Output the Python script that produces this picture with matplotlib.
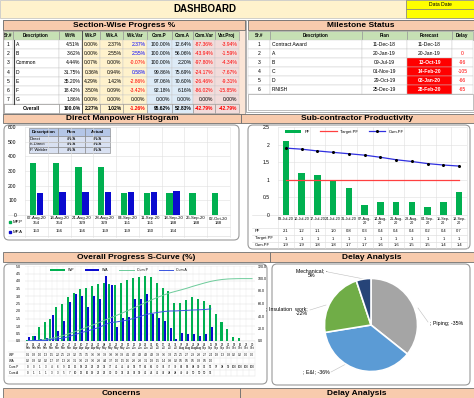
import numpy as np
import matplotlib.pyplot as plt
from matplotlib.patches import Rectangle, FancyBboxPatch
from matplotlib.transforms import blended_transform_factory

W, H = 474, 398
plt.rcParams['font.family'] = ['Liberation Sans', 'DejaVu Sans']

# ---------------- data ----------------
sec_rows = ['1', '2', '3', '4', '5', '6', '7']
sec_desc = ['A', 'B', 'Common', 'D', 'E', 'F', 'G']
sec_wt = ['4.51%', '3.62%', '4.44%', '31.75%', '35.20%', '18.42%', '1.86%']
sec_wkp = ['0.00%', '0.00%', '0.07%', '0.36%', '4.29%', '3.50%', '0.00%']
sec_wka = ['2.37%', '2.55%', '0.00%', '0.94%', '1.42%', '0.09%', '0.00%']
sec_wkvar = ['2.37%', '2.55%', '-0.07%', '0.58%', '-2.86%', '-3.42%', '0.00%']
sec_comp = ['100.00%', '100.00%', '100.00%', '99.86%', '97.06%', '92.18%', '0.00%']
sec_coma = ['12.64%', '56.06%', '2.20%', '75.69%', '70.60%', '6.16%', '0.00%']
sec_comvar = ['-87.36%', '-43.94%', '-97.80%', '-24.17%', '-26.46%', '-86.02%', '0.00%']
sec_varproj = ['-3.94%', '-1.59%', '-4.34%', '-7.67%', '-9.31%', '-15.85%', '0.00%']
sec_overall = ['100.0%', '2.27%', '1.02%', '-1.26%', '95.62%', '52.83%', '-42.79%', '-42.79%']

ms_desc = ['Contract Award', 'A', 'B', 'C', 'D', 'FINISH']
ms_plan = ['11-Dec-18', '20-Jan-19', '09-Jul-19', '01-Nov-19', '29-Oct-19', '25-Dec-19']
ms_fcst = ['11-Dec-18', '20-Jan-19', '13-Oct-19', '14-Feb-20', '03-Jan-20', '28-Feb-20']
ms_delay = ['', '0', '-96', '-105', '-66', '-65']
ms_late = [False, False, True, True, True, True]

mp_dates = ['07-Aug-20', '14-Aug-20', '21-Aug-20', '28-Aug-20', '04-Sep-20',
            '11-Sep-20', '18-Sep-20', '25-Sep-20', '02-Oct-20']
mp_plan = [354, 354, 329, 329, 151, 151, 148, 148, 148]
mp_act = [153, 156, 156, 159, 159, 160, 164]

pf_dates = ['03-Jul-20', '10-Jul-20', '17-Jul-20', '24-Jul-20', '31-Jul-20', '07-Aug-\n20',
            '14-Aug-\n20', '21-Aug-\n20', '28-Aug-\n20', '04-Sep-\n20', '11-Sep-\n20', '18-Sep-\n20']
pf = [2.1, 1.2, 1.13, 0.99, 0.76, 0.27, 0.38, 0.36, 0.36, 0.24, 0.36, 0.66]
target_pf = [1, 1, 1, 1, 1, 1, 1, 1, 1, 1, 1, 1]
cum_pf = [1.9, 1.87, 1.82, 1.78, 1.74, 1.70, 1.64, 1.57, 1.52, 1.46, 1.42, 1.39]

s_days = ['07', '14', '21', '28', '06', '13', '20', '27', '03', '10', '17', '24', '01',
          '08', '15', '22', '29', '05', '12', '19', '26', '03', '10', '17', '24', '31',
          '07', '14', '21', '28', '04', '11', '18', '25', '02', '09', '16', '23', '30']
s_months = ['Feb'] * 4 + ['Mar'] * 4 + ['Apr'] * 4 + ['May'] * 5 + ['Jun'] * 4 + \
           ['Jul'] * 5 + ['Aug'] * 4 + ['Sep'] * 4 + ['Oct'] * 5
wk_plan = [0.05, 0.33, 0.96, 1.28, 1.5, 2.24, 2.48, 2.93, 3.2, 3.47, 3.55, 3.65, 3.8,
           3.87, 3.78, 3.76, 3.9, 4.1, 4.23, 4.3, 4.34, 4.3, 3.9, 3.56, 3.33, 2.55,
           2.55, 2.73, 2.93, 2.77, 2.7, 2.39, 1.81, 1.27, 0.83, 0.25, 0.2, 0.0, 0.0]
wk_act = [0.25, 0.35, 0.16, 0.18, 1.72, 0.65, 1.34, 2.57, 3.15, 3.02, 2.3, 2.98, 2.8,
          4.36, 3.74, 0.96, 1.52, 1.63, 2.77, 2.77, 3.15, 1.81, 1.54, 1.36, 0.87, 0.16,
          0.51, 0.47, 0.47, 0.34, 0.49, 0.96]
cum_plan = [0.1, 0.4, 1.3, 2.6, 4.1, 6.4, 8.8, 11.8, 15.0, 18.4, 22.0, 25.6, 29.4,
            33.3, 37.1, 40.9, 44.8, 48.9, 53.1, 57.4, 61.7, 66.0, 69.9, 73.5, 76.8, 79.4,
            81.9, 84.6, 87.6, 90.3, 93.0, 95.4, 97.2, 98.5, 99.3, 99.6, 99.8, 99.8, 99.8]
cum_act = [0.3, 0.6, 0.8, 0.9, 2.7, 3.3, 4.7, 7.2, 10.4, 13.4, 15.7, 18.7, 21.5,
           25.8, 29.6, 30.5, 32.1, 33.7, 36.5, 39.2, 42.4, 44.2, 45.7, 47.1, 48.0, 48.1,
           48.6, 49.1, 49.6, 49.9, 50.4, 51.4]

delay_labels = ['Piping', 'E&I', 'Insulation  work', 'Mechanical']
delay_vals = [35, 36, 22, 5]
delay_colors = ['#A5A5A5', '#5B9BD5', '#70AD47', '#264478']

GREEN = '#00B050'
BLUE = '#0A0ACF'
SALMON = '#F8CBAD'
HDR_GREEN = '#C6E0B4'

# ---------------- helpers ----------------
fig = plt.figure(figsize=(W / 100, H / 100), dpi=100)
bg = fig.add_axes([0, 0, 1, 1])
bg.set_xlim(0, W)
bg.set_ylim(H, 0)
bg.axis('off')


def px_axes(x0, y0, x1, y1):
    return fig.add_axes([x0 / W, 1 - y1 / H, (x1 - x0) / W, (y1 - y0) / H])


def box(x0, y0, x1, y1, fc, ec='#A0A0A0', lw=0.4, z=1):
    bg.add_patch(Rectangle((x0, y0), x1 - x0, y1 - y0, fc=fc, ec=ec, lw=lw, zorder=z))


def header(x0, y0, x1, y1, text):
    box(x0, y0, x1, y1, SALMON, ec='#6F6F6F', lw=0.6, z=2)
    bg.text((x0 + x1) / 2, (y0 + y1) / 2 + 0.3, text, ha='center', va='center',
            fontsize=6, fontweight='bold', zorder=3)


def panel(x0, y0, x1, y1):
    bg.add_patch(FancyBboxPatch((x0, y0), x1 - x0, y1 - y0,
                                boxstyle='round,pad=0,rounding_size=5',
                                fc='white', ec='#9A9A9A', lw=0.8, zorder=2))


def cell_text(x, y, s, ha='center', color='black', bold=False, size=3.6):
    bg.text(x, y, s, ha=ha, va='center', fontsize=size, color=color,
            fontweight='bold' if bold else 'normal', zorder=4)


# ---------------- top band ----------------
box(0, 0, 406, 18, '#FFF2CC', ec='#BFBFBF', lw=0.5)
bg.text(205, 8.5, 'DASHBOARD', ha='center', va='center', fontsize=7, fontweight='bold')
box(406, 0, 474, 9, '#FFFF00', ec='#7F7F7F', lw=0.5)
box(406, 9, 474, 18, '#FFFF00', ec='#7F7F7F', lw=0.5)
cell_text(440, 4.7, 'Data Date', size=3.6)

# ---------------- section-wise progress table ----------------
box(3, 20, 245, 114, '#FBE5D6', ec='#8F8F8F', lw=0.5)
header(3, 20, 245, 30, 'Section-Wise Progress %')
cols = [4, 13, 59, 82, 100, 123, 147, 172, 193, 215, 239]
col_bg = ['white', 'white', 'white', '#FFF2CC', '#FFF2CC', '#FFF2CC',
          '#DDEBF7', '#DDEBF7', '#F2DCDB', '#F2DCDB']
heads = ['Sr.#', 'Description', 'Wt%', 'Wk.P', 'Wk.A', 'Wk.Var', 'Com.P', 'Com.A', 'Com.Var', 'Var.Proj']
for i, h in enumerate(heads):
    box(cols[i], 31, cols[i + 1], 40, HDR_GREEN, ec='#8F8F8F', lw=0.4, z=2)
    cell_text((cols[i] + cols[i + 1]) / 2, 35.7, h, bold=True, size=3.3)
row_h = 9.2
for r in range(7):
    y0 = 40 + r * row_h
    for i in range(10):
        box(cols[i], y0, cols[i + 1], y0 + row_h, col_bg[i], ec='#C8C8C8', lw=0.3, z=2)
    yc = y0 + row_h / 2
    vals = [sec_wt[r], sec_wkp[r], sec_wka[r], sec_wkvar[r], sec_comp[r], sec_coma[r],
            sec_comvar[r], sec_varproj[r]]
    cell_text((cols[0] + cols[1]) / 2, yc, sec_rows[r])
    cell_text(cols[1] + 3, yc, sec_desc[r], ha='left')
    for k, v in enumerate(vals):
        c = 'black'
        if k == 3 and v != '0.00%':
            c = 'red' if v.startswith('-') else 'blue'
        if k >= 6 and v.startswith('-'):
            c = 'red'
        cell_text(cols[k + 3] - 1.5, yc, v, ha='right', color=c)
y0 = 40 + 7 * row_h
for i in range(10):
    box(cols[i], y0, cols[i + 1], y0 + 9, col_bg[i], ec='#8F8F8F', lw=0.4, z=2)
bg.add_patch(Rectangle((cols[0], y0), cols[2] - cols[0], 9, fc='white', ec='#8F8F8F', lw=0.4, zorder=2))
cell_text((cols[0] + cols[2]) / 2, y0 + 4.5, 'Overall', bold=True)
for k, v in enumerate(sec_overall):
    c = 'red' if v.startswith('-') else 'black'
    cell_text(cols[k + 3] - 1.5, y0 + 4.5, v, ha='right', color=c, bold=True)
bg.plot([cols[1] + 1, cols[1] + 1], [40, y0], color='#404040', lw=0.8, zorder=5)
bg.plot([cols[3], cols[3]], [31, y0 + 9], color='#404040', lw=0.6, zorder=5)

# ---------------- milestone table ----------------
box(246, 20, 474, 112, 'white', ec='#8F8F8F', lw=0.5)
header(248, 20, 474, 30, 'Milestone Status')
mcols = [248, 270, 362, 407, 452, 473]
mheads = ['Sr.#', 'Description', 'Plan', 'Forecast', 'Delay']
for i, h in enumerate(mheads):
    box(mcols[i], 31, mcols[i + 1], 40, HDR_GREEN, ec='#8F8F8F', lw=0.4, z=2)
    cell_text((mcols[i] + mcols[i + 1]) / 2, 35.7, h, bold=True, size=3.3)
for r in range(6):
    y0 = 40 + r * 9
    for i in range(5):
        fc = '#FF0000' if (i == 3 and ms_late[r]) else 'white'
        box(mcols[i], y0, mcols[i + 1], y0 + 9, fc, ec='#C8C8C8', lw=0.3, z=2)
    yc = y0 + 4.6
    cell_text((mcols[0] + mcols[1]) / 2, yc, str(r + 1))
    cell_text(mcols[1] + 2, yc, ms_desc[r], ha='left')
    cell_text((mcols[2] + mcols[3]) / 2, yc, ms_plan[r])
    cell_text((mcols[3] + mcols[4]) / 2, yc, ms_fcst[r],
              color='white' if ms_late[r] else 'black', bold=ms_late[r])
    cell_text((mcols[4] + mcols[5]) / 2, yc, ms_delay[r], color='red')
box(248, 94, 473, 110, 'white', ec='#8F8F8F', lw=0.4, z=2)

# ---------------- section headers ----------------
header(3, 114, 241, 123, 'Direct Manpower Histogram')
header(241, 114, 474, 123, 'Sub-contractor Productivity')
header(3, 252, 270, 262, 'Overall Progress S-Curve (%)')
header(270, 252, 474, 262, 'Delay Analysis')
header(3, 388, 240, 398, 'Concerns')
header(240, 388, 474, 398, 'Delay Analysis')

panel(4, 125, 239, 240)
panel(248, 125, 470, 249)
panel(4, 264, 267, 384)
panel(272, 264, 470, 385)

# ---------------- manpower histogram ----------------
ax = px_axes(25, 127, 230, 215)
ax.set_facecolor('none')
x = np.arange(len(mp_dates))
ax.bar(x - 0.15, mp_plan, width=0.28, color=GREEN, zorder=3)
ax.bar(np.arange(len(mp_act)) + 0.15, mp_act, width=0.28, color=BLUE, zorder=3)
ax.set_xlim(-0.5, len(mp_dates) - 0.5)
ax.set_ylim(0, 600)
ax.set_yticks(range(0, 601, 100))
ax.tick_params(axis='y', labelsize=3.6, length=0, pad=6)
ax.set_xticks([])
ax.grid(axis='y', color='#E0E0E0', lw=0.4, zorder=0)
for s in ax.spines.values():
    s.set_visible(False)
tr = blended_transform_factory(ax.transData, bg.transData)
for b in np.arange(-0.5, len(mp_dates), 1.0):
    ax.plot([b, b], [127, 237], color='#E0E0E0', lw=0.4, transform=tr, clip_on=False, zorder=1)
for yy in [215, 227, 236]:
    bg.plot([8, 230], [yy, yy], color='#D9D9D9', lw=0.4, zorder=3)
for i, d in enumerate(mp_dates):
    ax.text(i, 218.5, d, transform=tr, ha='center', va='center', fontsize=3.1)
    ax.text(i, 222.5, str(mp_plan[i]), transform=tr, ha='center', va='center', fontsize=3.1)
    if i < len(mp_act):
        ax.text(i, 231.5, str(mp_act[i]), transform=tr, ha='center', va='center', fontsize=3.1)
bg.add_patch(Rectangle((9, 221), 2, 2, color=GREEN, zorder=4))
cell_text(12.5, 222.3, 'MP.P', ha='left', size=3.1)
bg.add_patch(Rectangle((9, 230.5), 2, 2, color=BLUE, zorder=4))
cell_text(12.5, 231.7, 'MP.A', ha='left', size=3.1)

# small legend table inside histogram
tcols = [29, 58, 85, 110]
trows = [128, 136, 141.5, 147, 152.5]
for i, h in enumerate(['Description', 'Plan', 'Actual']):
    box(tcols[i], trows[0], tcols[i + 1], trows[1], '#B4C6E7', ec='#7F7F7F', lw=0.4, z=5)
    bg.text((tcols[i] + tcols[i + 1]) / 2, 132, h, ha='center', va='center', fontsize=3.2,
            fontweight='bold', zorder=6)
for r, name in enumerate(['Direct', 'In-Direct', 'P. Welder']):
    for i in range(3):
        box(tcols[i], trows[r + 1], tcols[i + 1], trows[r + 2], '#D9E1F2', ec='#7F7F7F', lw=0.4, z=5)
    yc = (trows[r + 1] + trows[r + 2]) / 2
    bg.text(tcols[0] + 1, yc, name, ha='left', va='center', fontsize=3, zorder=6)
    bg.text((tcols[1] + tcols[2]) / 2, yc, '#N/A', ha='center', va='center', fontsize=3, zorder=6)
    bg.text((tcols[2] + tcols[3]) / 2, yc, '#N/A', ha='center', va='center', fontsize=3, zorder=6)

# ---------------- sub-contractor productivity ----------------
ax2 = px_axes(278, 127, 467, 215)
ax2.set_facecolor('none')
x2 = np.arange(len(pf))
b_pf = ax2.bar(x2, pf, width=0.42, color=GREEN, zorder=3, label='PF')
l_tg, = ax2.plot(x2, target_pf, color='#FF4040', lw=0.9, zorder=4, label='Target PF')
l_cum, = ax2.plot(x2, cum_pf, color='#3030E0', lw=0.9, marker='o', ms=1.2, mfc='black',
                  mec='black', zorder=5, label='Cum.PF')
ax2.set_xlim(-0.5, len(pf) - 0.5)
ax2.set_ylim(0, 2.5)
ax2.set_yticks([0, 0.5, 1, 1.5, 2, 2.5])
ax2.set_yticklabels(['0', '0.5', '1', '1.5', '2', '2.5'])
ax2.tick_params(axis='y', labelsize=3.6, length=0, pad=6)
ax2.set_xticks([])
ax2.grid(axis='y', color='#E0E0E0', lw=0.4, zorder=0)
for s in ax2.spines.values():
    s.set_visible(False)
ax2.legend([b_pf, l_tg, l_cum], ['PF', 'Target PF', 'Cum.PF'], loc='upper left',
           bbox_to_anchor=(0.02, 1.0), ncol=3, frameon=False,
           fontsize=3, handlelength=4, columnspacing=2.5, borderaxespad=0.3)
tr2 = blended_transform_factory(ax2.transData, bg.transData)
for b in np.arange(-0.5, len(pf), 1.0):
    ax2.plot([b, b], [127, 248], color='#E0E0E0', lw=0.4, transform=tr2, clip_on=False, zorder=1)
for yy in [215, 228, 235, 242]:
    bg.plot([252, 467], [yy, yy], color='#D9D9D9', lw=0.4, zorder=3)
for i, d in enumerate(pf_dates):
    ax2.text(i, 221 if '\n' in d else 219, d, transform=tr2, ha='center', va='center',
             fontsize=2.7, linespacing=0.9)
    ax2.text(i, 231.5, '%.1f' % pf[i], transform=tr2, ha='center', va='center', fontsize=3)
    ax2.text(i, 238.5, '%d' % target_pf[i], transform=tr2, ha='center', va='center', fontsize=3)
    ax2.text(i, 245.5, '%.1f' % cum_pf[i], transform=tr2, ha='center', va='center', fontsize=3)
for yy, lab in [(231.5, 'PF'), (238.5, 'Target PF'), (245.5, 'Cum.PF')]:
    cell_text(255, yy, lab, ha='left', size=3)

# ---------------- S-curve ----------------
ax3 = px_axes(25, 266, 255, 341)
ax3.set_facecolor('none')
n = len(wk_plan)
x3 = np.arange(n)
ax3.bar(x3 - 0.18, wk_plan, width=0.34, color=GREEN, zorder=3, label='W.P')
ax3.bar(np.arange(len(wk_act)) + 0.18, wk_act, width=0.34, color=BLUE, zorder=3, label='W.A')
ax3.set_xlim(-0.5, n - 0.5)
ax3.set_ylim(0, 5)
ax3.set_yticks(np.arange(0, 5.01, 0.5))
ax3.set_yticklabels(['%.1f' % v for v in np.arange(0, 5.01, 0.5)])
ax3.tick_params(axis='y', labelsize=2.6, length=0, pad=3)
ax3.set_xticks(x3)
ax3.set_xticklabels([])
ax3.tick_params(axis='x', length=0)
ax3.grid(axis='y', color='#E0E0E0', lw=0.35, zorder=0)
ax3.grid(axis='x', color='#EBEBEB', lw=0.3, zorder=0)
for s in ax3.spines.values():
    s.set_visible(False)
ax3b = ax3.twinx()
ax3b.plot(x3, cum_plan, color='#6CCB9A', lw=0.7, zorder=4, label='Cum P')
ax3b.plot(np.arange(len(cum_act)), cum_act, color='#3A55E0', lw=0.7, zorder=4, label='Cum A')
ax3b.set_ylim(0, 120)
ax3b.set_yticks(range(0, 121, 20))
ax3b.set_yticklabels(['%.1f' % v for v in range(0, 121, 20)])
ax3b.tick_params(axis='y', labelsize=2.6, length=0, pad=2)
for s in ax3b.spines.values():
    s.set_visible(False)
h1, l1 = ax3.get_legend_handles_labels()
h2, l2 = ax3b.get_legend_handles_labels()
ax3b.legend(h1 + h2, l1 + l2, loc='upper left', bbox_to_anchor=(0.1, 1.0), ncol=4,
            frameon=False, fontsize=2.6, handlelength=4, columnspacing=3, borderaxespad=0.2)
tr3 = blended_transform_factory(ax3.transData, bg.transData)
for b in np.arange(-0.5, n, 1.0):
    ax3.plot([b, b], [341, 376], color='#E6E6E6', lw=0.3, transform=tr3, clip_on=False, zorder=1)
for yy in [341, 352, 358, 364, 370, 376]:
    bg.plot([8, 255], [yy, yy], color='#DDDDDD', lw=0.3, zorder=3)
for i in range(n):
    ax3.text(i, 346.5, s_days[i] + '\n' + s_months[i], transform=tr3, ha='center', va='center',
             fontsize=2.1, linespacing=0.9)
    ax3.text(i, 355, '%.1f' % wk_plan[i], transform=tr3, ha='center', va='center', fontsize=2.1)
    ax3.text(i, 367, '%.0f' % cum_plan[i], transform=tr3, ha='center', va='center', fontsize=2.1)
    if i < len(wk_act):
        ax3.text(i, 361, '%.1f' % wk_act[i], transform=tr3, ha='center', va='center', fontsize=2.1)
        ax3.text(i, 373, '%.0f' % cum_act[i], transform=tr3, ha='center', va='center', fontsize=2.1)
for yy, lab in [(355, 'W.P'), (361, 'W.A'), (367, 'Cum P'), (373, 'Cum A')]:
    cell_text(9, yy, lab, ha='left', size=2.2)

# ---------------- delay pie ----------------
ax4 = px_axes(324, 278, 418, 372)
ax4.pie(delay_vals, colors=delay_colors, startangle=90, counterclock=False,
        wedgeprops=dict(edgecolor='white', linewidth=1.2))
ax4.set_xlim(-1.01, 1.01)
ax4.set_ylim(-1.01, 1.01)
ax4.set_aspect('equal')
lbl = [('; Piping; -35%', 430, 323, 'left', [(418, 308), (428, 322)]),
       ('; E&I; -36%', 330, 372, 'right', [(331, 372), (346, 364)]),
       ('; Insulation  work;\n-22%', 308, 311, 'right', [(310, 310), (326, 305)]),
       ('Mechanical; -\n5%', 312, 273, 'center', [(328, 272), (364, 279)])]
for txt, lx, ly, ha, pts in lbl:
    bg.text(lx, ly, txt, ha=ha, va='center', fontsize=3.8, zorder=6, linespacing=1.1)
    bg.plot([p[0] for p in pts], [p[1] for p in pts], color='#BFBFBF', lw=0.4, zorder=6)

fig.savefig('out.png', dpi=100)
